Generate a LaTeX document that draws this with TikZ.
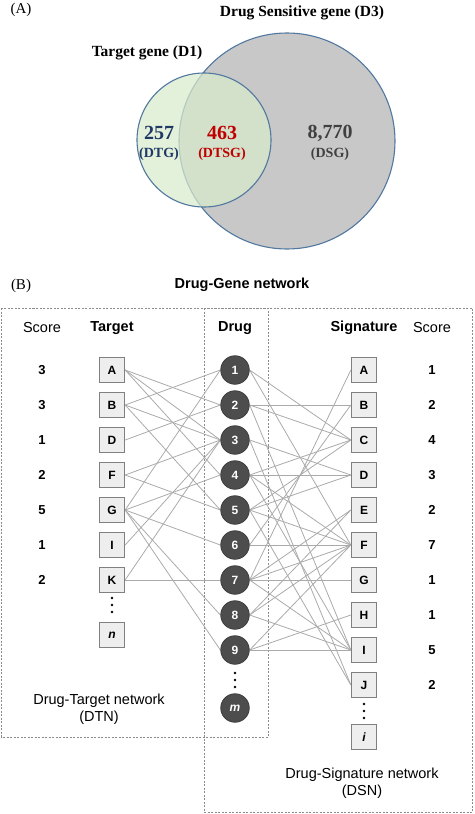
\documentclass[tikz,border=0pt]{standalone}
\usepackage{fontspec}
\setmainfont{Liberation Serif}
\setsansfont{Liberation Sans}
\usetikzlibrary{backgrounds}
\definecolor{edgegray}{RGB}{170,170,170}
\definecolor{boxgray}{RGB}{128,128,128}
\definecolor{boxfill}{RGB}{238,238,238}
\definecolor{drugfill}{RGB}{77,77,77}
\definecolor{drugline}{RGB}{60,60,60}
\definecolor{framegray}{RGB}{140,140,140}
\definecolor{vennline}{RGB}{80,120,160}
\definecolor{vgreen}{RGB}{216,234,204}
\definecolor{vgray}{RGB}{200,200,200}
\definecolor{vblue}{RGB}{31,56,100}
\definecolor{vred}{RGB}{192,0,0}
\definecolor{vdark}{RGB}{64,64,64}
\begin{document}
\begin{tikzpicture}[x=1pt,y=-1pt,
 tbox/.style={draw=boxgray, fill=boxfill, line width=1.3pt, minimum width=25pt, minimum height=25pt, inner sep=0pt, font=\sffamily\bfseries\fontsize{12}{14}\selectfont},
 drug/.style={circle, draw=drugline, fill=drugfill, line width=0.8pt, minimum size=28.5pt, inner sep=0pt, text=white, font=\sffamily\bfseries\fontsize{12}{14}\selectfont},
 link/.style={draw=edgegray, line width=0.8pt},
 frame/.style={draw=framegray, dash pattern=on 2pt off 1.5pt, line width=0.9pt},
 hdr/.style={font=\sffamily\bfseries\fontsize{14.5}{17}\selectfont},
 hdrn/.style={font=\sffamily\fontsize{14.5}{17}\selectfont},
 score/.style={font=\sffamily\bfseries\fontsize{13}{15}\selectfont},
 vlabel/.style={font=\bfseries\fontsize{15.5}{18}\selectfont},
 vnum/.style={font=\bfseries\fontsize{20}{22}\selectfont},
 vsub/.style={font=\bfseries\fontsize{14}{16}\selectfont},
 plabel/.style={font=\fontsize{15}{17}\selectfont},
 dot/.style={circle, fill=black, inner sep=0pt, minimum size=2.8pt}
]
\useasboundingbox (0,0) rectangle (474,814);

% ---------- (A) Venn ----------
\node[plabel] (labA) at (21,10) {(A)};
\fill[vgray] (287,141) circle (108);
\draw[vennline, line width=1.1pt] (287,141) circle (108);
\fill[vgreen, fill opacity=0.72] (204,140) circle (67);
\draw[vennline, line width=1.1pt] (204,140) circle (67);
\node[vlabel] (tD3) at (302,13) {Drug Sensitive gene (D3)};
\node[vlabel] (tD1) at (147,53) {Target gene (D1)};
\node[vnum, text=vblue] (n257) at (159,133) {257};
\node[vsub, text=vblue] (s257) at (159,154) {(DTG)};
\node[vnum, text=vred] (n463) at (222,133) {463};
\node[vsub, text=vred] (s463) at (222,154) {(DTSG)};
\node[vnum, text=vdark] (n8770) at (330,133) {8,770};
\node[vsub, text=vdark] (s8770) at (330,154) {(DSG)};

% ---------- (B) network ----------
\node[plabel] (labB) at (21,286) {(B)};
\node[hdr] (title) at (242,285) {Drug-Gene network};

\node[hdrn] (hs1) at (42,328) {Score};
\node[hdr] (ht) at (112,328) {Target};
\node[hdr] (hd) at (235,328) {Drug};
\node[hdr] (hsg) at (364,328) {Signature};
\node[hdrn] (hs2) at (432,328) {Score};

% targets
\foreach \n/\y/\s in {A/370/3,B/405/3,D/440/1,F/475/2,G/510/5,I/545/1,K/580/2}{
  \node[tbox] (t\n) at (112,\y) {\n};
  \node[score] (ts\n) at (42,\y) {\s};
}
\node[tbox] (tn) at (112,635) {\itshape n};
\node[dot] (tdot1) at (112,598) {};
\node[dot] (tdot2) at (112,605) {};
\node[dot] (tdot3) at (112,612) {};

% drugs
\foreach \k in {1,...,9}{
  \node[drug] (d\k) at (235,{370+35*(\k-1)}) {\k};
}
\node[drug] (dm) at (235,708) {\itshape m};
\node[dot] (ddot1) at (235,673) {};
\node[dot] (ddot2) at (235,680) {};
\node[dot] (ddot3) at (235,687) {};

% signatures
\foreach \n/\y/\s in {A/370/1,B/405/2,C/440/4,D/475/3,E/510/2,F/545/7,G/580/1,H/615/1,I/650/5,J/685/2}{
  \node[tbox] (s\n) at (364,\y) {\n};
  \node[score] (ss\n) at (432,\y) {\s};
}
\node[tbox] (si) at (364,737) {\itshape i};
\node[dot] (sdot1) at (364,704) {};
\node[dot] (sdot2) at (364,711) {};
\node[dot] (sdot3) at (364,718) {};

\node[hdrn, align=center] (dtn) at (99,709) {Drug-Target network\\(DTN)};
\node[hdrn, align=center] (dsn) at (362,783) {Drug-Signature network\\(DSN)};

\begin{scope}[on background layer]
  \draw[frame] (1.5,308) rectangle (268,737);
  \draw[frame] (204,308) rectangle (472.5,812);
  % drug-target links
  \foreach \a/\b in {A/2,A/3,A/4,B/1,B/3,B/5,D/2,F/3,F/5,G/1,G/4,G/6,G/8,G/9,I/3,K/3,K/7}{
    \draw[link] (t\a.east) -- (d\b.west);
  }
  % drug-signature links
  \foreach \a/\b in {1/C,1/F,2/B,2/C,2/I,3/D,3/J,4/C,4/D,4/F,4/I,5/C,5/D,5/F,5/J,6/B,6/F,7/A,7/E,7/F,7/G,7/I,8/E,8/F,8/I,9/F,9/H,9/I}{
    \draw[link] (d\a.east) -- (s\b.west);
  }
\end{scope}
\end{tikzpicture}
\end{document}
